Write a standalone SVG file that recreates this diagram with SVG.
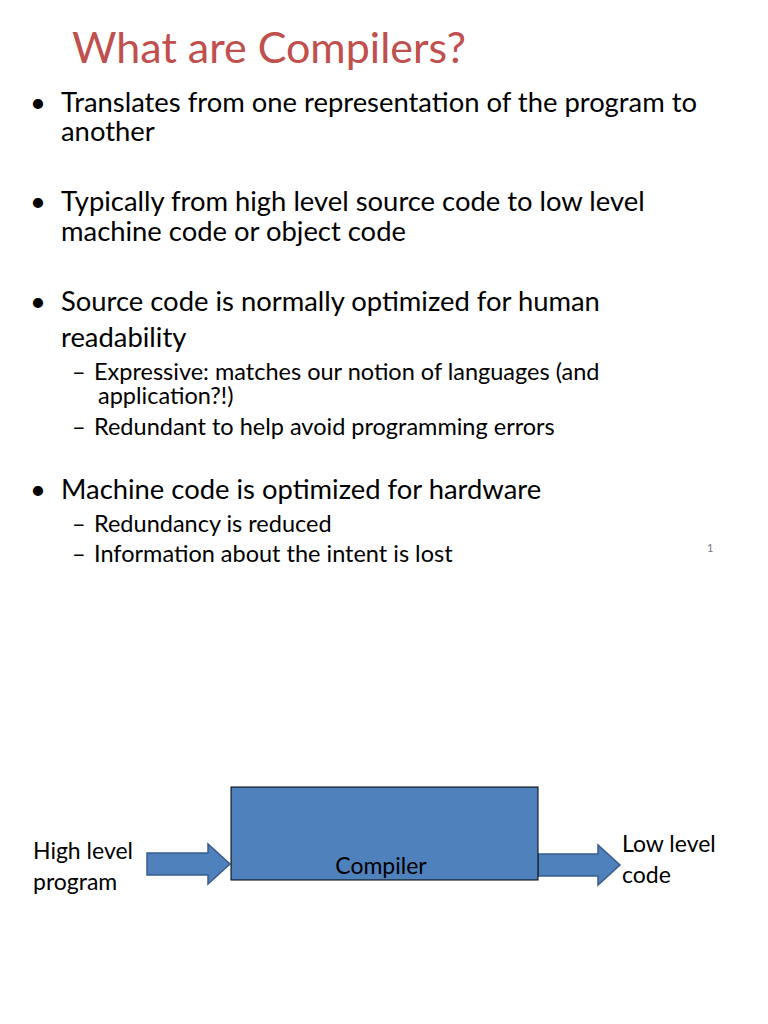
<svg xmlns="http://www.w3.org/2000/svg" width="768" height="1024" viewBox="0 0 768 1024">
<style>
text{font-family:Lato,"Open Sans","Liberation Sans",sans-serif;fill:#000}
.t{font-size:43px;fill:#c0504d}
.b{font-size:27.4px}
.s{font-size:23.5px}
.l{font-size:23px}
.arr{fill:#4f81bd;stroke:#385d8a;stroke-width:1.5}
</style>
<rect width="768" height="1024" fill="#fff"/>
<text class="t" x="72" y="63">What are Compilers?</text>
<g class="b">
<text x="30" y="112">•</text><text x="61" y="112">Translates from one representation of the program to</text>
<text x="61" y="141">another</text>
<text x="30" y="211">•</text><text x="61" y="211">Typically from high level source code to low level</text>
<text x="61" y="241">machine code or object code</text>
<text x="30" y="311">•</text><text x="61" y="311">Source code is normally optimized for human</text>
<text x="61" y="347">readability</text>
<text x="30" y="499">•</text><text x="61" y="499">Machine code is optimized for hardware</text>
</g>
<g class="s">
<text x="72" y="380">–</text><text x="94" y="380">Expressive: matches our notion of languages (and</text>
<text x="98" y="404">application?!)</text>
<text x="72" y="435">–</text><text x="94" y="435">Redundant to help avoid programming errors</text>
<text x="72" y="532">–</text><text x="94" y="532">Redundancy is reduced</text>
<text x="72" y="562">–</text><text x="94" y="562">Information about the intent is lost</text>
</g>
<text x="707" y="552" style="font-size:11px;fill:#777">1</text>
<g id="connectors">
<polygon class="arr" points="147,853 208,853 208,844 230,864 208,884 208,875 147,875"/>
<polygon class="arr" points="538,854 598,854 598,845 620,865 598,885 598,876 538,876"/>
</g>
<g id="compiler">
<rect x="231" y="787" width="307" height="93" fill="#4f81bd" stroke="#000" stroke-width="1"/>
<text class="l" x="381" y="874" text-anchor="middle">Compiler</text>
</g>
<g id="input"><text class="l" x="33" y="859">High level</text><text class="l" x="33" y="890">program</text></g>
<g id="output"><text class="l" x="622" y="852">Low level</text><text class="l" x="622" y="883">code</text></g>
</svg>
